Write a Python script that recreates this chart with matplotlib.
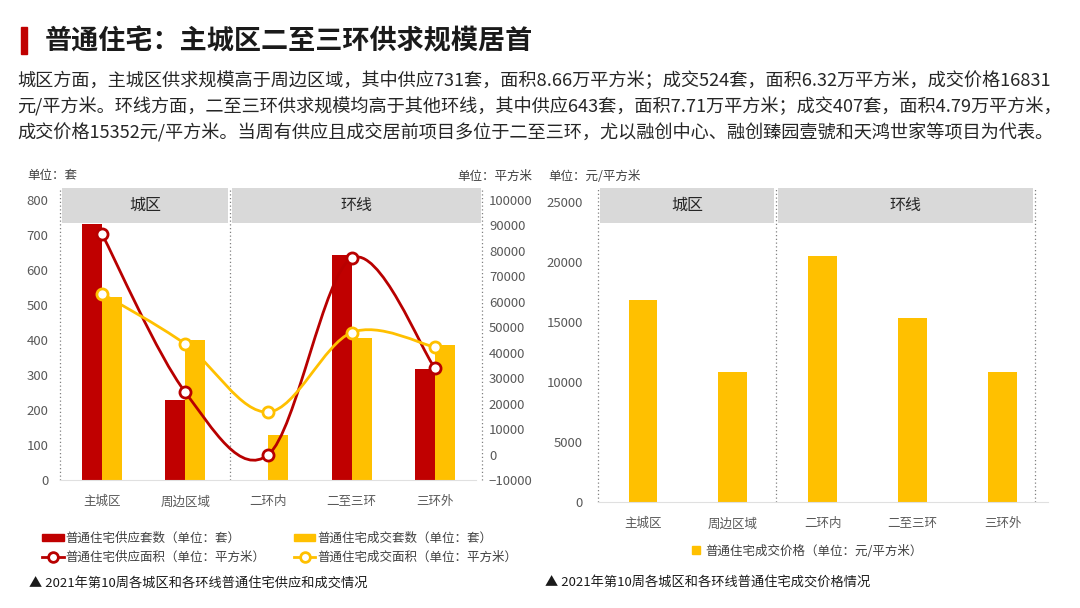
import numpy as np
import matplotlib.pyplot as plt
from matplotlib.path import Path
from matplotlib.patches import PathPatch, Rectangle
from matplotlib.lines import Line2D

plt.rcParams['font.family'] = ['Noto Sans CJK SC', 'DejaVu Sans']

categories = ['主城区', '周边区域', '二环内', '二至三环', '三环外']
groups = ['城区', '环线']
supply_units = [731, 229, 0, 643, 317]
deal_units = [524, 400, 128, 407, 386]
supply_area = [86600, 24500, 0, 77100, 34000]
deal_area = [63200, 43400, 16700, 47900, 42200]
deal_price = [16831, 10800, 20500, 15352, 10800]

title = '普通住宅：主城区二至三环供求规模居首'
body = ['城区方面，主城区供求规模高于周边区域，其中供应731套，面积8.66万平方米；成交524套，面积6.32万平方米，成交价格16831',
        '元/平方米。环线方面，二至三环供求规模均高于其他环线，其中供应643套，面积7.71万平方米；成交407套，面积4.79万平方米，',
        '成交价格15352元/平方米。当周有供应且成交居前项目多位于二至三环，尤以融创中心、融创臻园壹號和天鸿世家等项目为代表。']

RED = '#C00000'
YEL = '#FFC000'
GREY_TXT = '#595959'
W, H = 1080, 608


def px(x, y):
    return x / W, 1 - y / H


def smooth_path(xs, ys):
    # bezier curve through the points, like excel's smoothed line
    pts = np.column_stack([xs, ys]).astype(float)
    ext = np.vstack([pts[0], pts, pts[-1]])
    verts = [pts[0]]
    codes = [Path.MOVETO]
    for i in range(len(pts) - 1):
        p0, p1, p2, p3 = ext[i], ext[i + 1], ext[i + 2], ext[i + 3]
        verts += [p1 + (p2 - p0) / 6, p2 - (p3 - p1) / 6, p2]
        codes += [Path.CURVE4] * 3
    return Path(verts, codes)


def header(ax, top, band_lo, mid, right):
    for x0, x1, name in [(-0.5, mid, groups[0]), (mid, right, groups[1])]:
        ax.add_patch(Rectangle((x0 + 0.02, band_lo), x1 - x0 - 0.04, top - band_lo,
                               color='#D9D9D9', clip_on=False, zorder=0, lw=0))
        ax.text((x0 + x1) / 2, (top + band_lo) / 2, name, ha='center', va='center',
                fontsize=11.5, color='#262626')
    for x in [-0.5, mid, right]:
        ax.plot([x, x], [0, top], color='#808080', lw=0.9, dashes=(1, 2), clip_on=False, zorder=1)


fig = plt.figure(figsize=(10.8, 6.08), dpi=100)
fig.patch.set_facecolor('white')

# title and text
fig.patches.append(Rectangle(px(21, 54), 6 / W, 27 / H, transform=fig.transFigure, color=RED))
fig.text(*px(45, 41), title, fontsize=19.5, weight='bold', va='center', color='#1a1a1a')
for i, line in enumerate(body):
    fig.text(*px(17, 81 + 26 * i), line, fontsize=13.1, va='center', color='#262626')

# left chart
x = np.arange(len(categories))
bw = 0.24
ax = fig.add_axes([60.4 / W, 1 - 480 / H, 416 / W, 292 / H])
ax.bar(x - bw / 2, supply_units, bw, color=RED, zorder=2)
ax.bar(x + bw / 2, deal_units, bw, color=YEL, zorder=2)
ytop = 834
ax.set_xlim(-0.5, 4.5)
ax.set_ylim(0, ytop)
ax.set_yticks(range(0, 801, 100))
ax.set_xticks(x)
ax.set_xticklabels(categories)
ax.tick_params(axis='y', length=0, pad=8.7, labelsize=9.5, labelcolor=GREY_TXT)
ax.tick_params(axis='x', length=0, pad=11, labelsize=9, labelcolor=GREY_TXT)
for s in ['top', 'left', 'right']:
    ax.spines[s].set_visible(False)
ax.spines['bottom'].set_color('#E0E0E0')
header(ax, ytop, 734, 1.54, 4.57)

ax2 = ax.twinx()
ax2.set_ylim(-10000, -10000 + ytop * 137.5)
ax2.set_yticks(range(-10000, 100001, 10000))
ax2.tick_params(axis='y', length=0, pad=9, labelsize=9.5, labelcolor=GREY_TXT)
for s in ax2.spines.values():
    s.set_visible(False)
ax2.add_patch(PathPatch(smooth_path(x, supply_area), fill=False, edgecolor='#B80000', lw=2, zorder=3))
ax2.add_patch(PathPatch(smooth_path(x, deal_area), fill=False, edgecolor=YEL, lw=2, zorder=3))
ax2.plot(x, supply_area, 'o', ms=8, mfc='white', mec='#B80000', mew=2, zorder=4)
ax2.plot(x, deal_area, 'o', ms=8, mfc='white', mec=YEL, mew=2, zorder=4)

fig.text(*px(27.5, 176), '单位：套', fontsize=9, va='center', color='#404040')
fig.text(*px(532, 176), '单位：平方米', fontsize=9, va='center', ha='right', color='#404040')

handles = [Rectangle((0, 0), 1, 1, color=RED),
           Line2D([], [], color='#B80000', lw=2, marker='o', ms=7, mfc='white', mew=2),
           Rectangle((0, 0), 1, 1, color=YEL),
           Line2D([], [], color=YEL, lw=2, marker='o', ms=7, mfc='white', mew=2)]
labels = ['普通住宅供应套数（单位：套）', '普通住宅供应面积（单位：平方米）',
          '普通住宅成交套数（单位：套）', '普通住宅成交面积（单位：平方米）']
fig.legend(handles, labels, ncol=2, loc='center left', bbox_to_anchor=px(31, 548),
           frameon=False, fontsize=9, labelcolor='#404040', handlelength=1.7, handleheight=0.6,
           handletextpad=0.15, columnspacing=2.3, labelspacing=0.5, numpoints=1)
fig.text(*px(29, 583), '▲ 2021年第10周各城区和各环线普通住宅供应和成交情况', fontsize=9.5, va='center',
         color='#1a1a1a')

# right chart
axr = fig.add_axes([598 / W, 1 - 502 / H, 449.5 / W, 314 / H])
axr.bar(x, deal_price, 0.32, color=YEL, zorder=2)
rtop = 26170
axr.set_xlim(-0.5, 4.5)
axr.set_ylim(0, rtop)
axr.set_yticks(range(0, 25001, 5000))
axr.set_xticks(x)
axr.set_xticklabels(categories)
axr.tick_params(axis='y', length=0, pad=10.8, labelsize=9.5, labelcolor=GREY_TXT)
axr.tick_params(axis='x', length=0, pad=11, labelsize=9, labelcolor=GREY_TXT)
for s in ['top', 'left', 'right']:
    axr.spines[s].set_visible(False)
axr.spines['bottom'].set_color('#E0E0E0')
header(axr, rtop, 23250, 1.48, 4.36)

fig.text(*px(548, 176), '单位：元/平方米', fontsize=9, va='center', color='#404040')
fig.legend([Line2D([], [], ls='none', marker='s', ms=6, color=YEL)], ['普通住宅成交价格（单位：元/平方米）'],
           loc='center left', bbox_to_anchor=px(680, 551), frameon=False, fontsize=9,
           labelcolor='#404040', handlelength=0.8, handletextpad=0.3)
fig.text(*px(545, 582), '▲ 2021年第10周各城区和各环线普通住宅成交价格情况', fontsize=9.5, va='center',
         color='#1a1a1a')

fig.savefig('out.png', dpi=100, facecolor='white')
